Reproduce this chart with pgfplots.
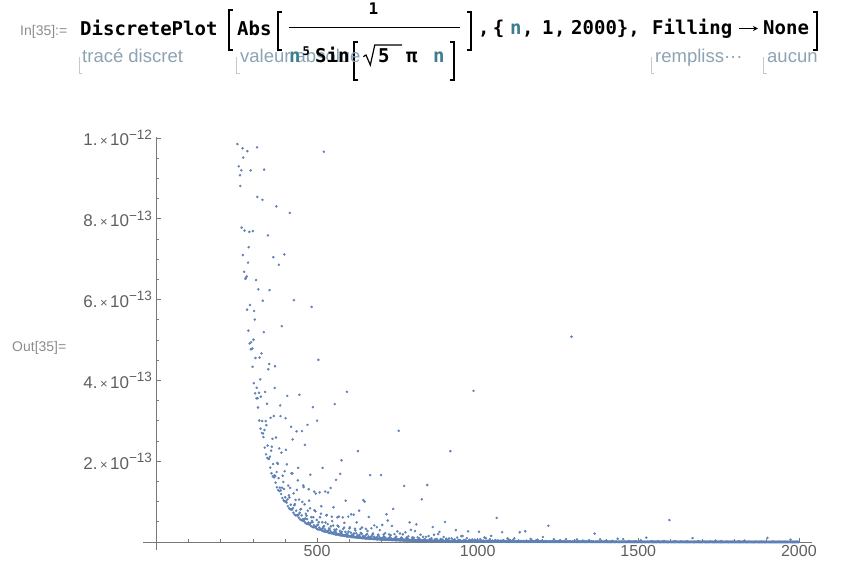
\documentclass[border=0pt]{standalone}
\usepackage{fontspec}
\setmainfont{Liberation Sans}
\newfontfamily\codefont{DejaVu Sans Mono}
\usepackage{pgfplots}
\pgfplotsset{compat=1.18}
\usetikzlibrary{arrows.meta}
\definecolor{ptblue}{RGB}{94,129,181}
\definecolor{nteal}{RGB}{60,125,145}
\definecolor{annot}{RGB}{140,163,178}
\definecolor{brk}{RGB}{200,200,200}
\definecolor{iogray}{RGB}{140,140,140}
\definecolor{axgray}{RGB}{120,120,120}
\definecolor{labgray}{RGB}{95,95,95}
\newcommand{\cf}[1]{{\fontsize{19bp}{19bp}\codefont\bfseries #1}}
\newcommand{\an}[1]{{\fontsize{18.5bp}{18.5bp}\selectfont\color{annot}#1}}
\newcommand{\sci}[2]{#1.\hspace{2.5bp}{\fontsize{13bp}{13bp}\selectfont ×}\hspace{2.5bp}10\raisebox{6.5bp}{\fontsize{13.5bp}{13.5bp}\selectfont −#2}}
\begin{document}
\begin{tikzpicture}[x=1bp,y=1bp]
\useasboundingbox (0,0) rectangle (853,583);
% ---- input line ----
\node[anchor=base west,inner sep=0,text=iogray,font=\fontsize{14bp}{14bp}\selectfont] at (20,547) {In[35]:=};
\node[anchor=base west,inner sep=0] at (80,547) {\cf{DiscretePlot}};
\node[anchor=base west,inner sep=0] at (237,547) {\cf{Abs}};
\begin{scope}[line width=1.6bp]
\draw (233,573) -- (228.8,573) -- (228.8,533) -- (233,533);
\draw (282,571) -- (277.8,571) -- (277.8,533) -- (282,533);
\draw (467,571) -- (471.2,571) -- (471.2,533) -- (467,533);
\draw (813,571) -- (817.2,571) -- (817.2,533) -- (813,533);
\draw (358,541) -- (353.8,541) -- (353.8,503) -- (358,503);
\draw (450,541) -- (454.2,541) -- (454.2,503) -- (450,503);
\end{scope}
\draw[line width=1.4bp] (289,555.7) -- (460,555.7);
\node[anchor=base,inner sep=0] at (373.5,568) {{\fontsize{16bp}{16bp}\codefont\bfseries 1}};
% annotations (drawn first, code drawn over them)
\begin{scope}[draw=brk,line width=0.8bp]
\draw (79,526.3) -- (79,509.7) -- (82,509.7);
\draw (236.5,526.3) -- (236.5,509.7) -- (239.5,509.7);
\draw (651,526.3) -- (651,509.7) -- (654,509.7);
\draw (763.5,526.3) -- (763.5,509.7) -- (766.5,509.7);
\end{scope}
\node[anchor=base west,inner sep=0] at (82,520) {\an{tracé discret}};
\node[anchor=base west,inner sep=0] at (240,520) {\an{valeur absolue}};
\node[anchor=base west,inner sep=0] at (655,520) {\an{rempliss···}};
\node[anchor=base west,inner sep=0] at (767,520) {\an{aucun}};
\node[anchor=base west,inner sep=0] at (289,520) {\cf{\color{nteal}n}};
\node[anchor=base west,inner sep=0] at (302.5,527) {{\fontsize{12bp}{12bp}\codefont\bfseries 5}};
\node[anchor=base west,inner sep=0] at (315,520) {\cf{Sin}};
\draw[line width=1.2bp] (363.3,526.3) -- (366,528) -- (370.3,518) -- (374.8,538) -- (402,538);
\node[anchor=base west,inner sep=0] at (378,520) {\cf{5}};
\node[anchor=base west,inner sep=0] at (406,520) {\cf{π}};
\node[anchor=base west,inner sep=0] at (433,520) {\cf{\color{nteal}n}};
\node[anchor=base west,inner sep=0] at (478,548) {\cf{,\,\{}};
\node[anchor=base west,inner sep=0] at (510,548) {\cf{\color{nteal}n}};
\node[anchor=base west,inner sep=0] at (522,548) {\cf{,}};
\node[anchor=base west,inner sep=0] at (542,548) {\cf{1}};
\node[anchor=base west,inner sep=0] at (554,548) {\cf{,}};
\node[anchor=base west,inner sep=0] at (571,548) {\cf{2000\},}};
\node[anchor=base west,inner sep=0] at (652,548) {\cf{Filling}};
\draw[line width=1.1bp,-{Stealth[length=5bp,width=5bp]}] (739,554.5) -- (758,554.5);
\node[anchor=base west,inner sep=0] at (763,548) {\cf{None}};
\node[anchor=base west,inner sep=0,text=iogray,font=\fontsize{14bp}{14bp}\selectfont] at (12,231.3) {Out[35]=};
% ---- plot ----
\begin{axis}[
  scale only axis, width=668.7bp, height=413.3bp,
  at={(156.5bp,41bp)}, anchor=origin,
  xmin=-42, xmax=2040, ymin=-0.2, ymax=10.03,
  axis lines=middle,
  axis line style={draw=axgray,line width=0.7bp,-},
  xtick={500,1000,1500,2000},
  xticklabels={500,1000,1500,2000},
  minor xtick={100,200,300,400,600,700,800,900,1100,1200,1300,1400,1600,1700,1800,1900},
  ytick={2,4,6,8,10},
  yticklabels={\sci{2}{13},\sci{4}{13},\sci{6}{13},\sci{8}{13},\sci{1}{12}},
  minor ytick={0.5,1,1.5,2.5,3,3.5,4.5,5,5.5,6.5,7,7.5,8.5,9,9.5},
  tick align=inside,
  major tick length=4bp, minor tick length=2.5bp,
  every tick/.style={draw=axgray,line width=0.6bp},
  xticklabel style={font=\fontsize{16bp}{16bp}\selectfont,text=labgray},
  yticklabel style={font=\fontsize{17bp}{17bp}\selectfont,text=labgray,xshift=-1bp},
]
\addplot[only marks, color=ptblue, mark=*, mark size=1.05bp, mark options={draw=none,fill=ptblue}] coordinates {
(289,7.676)(306,5.505)(323,4.024)(340,2.992)(357,2.261)(374,1.733)(391,1.344)(408,1.057)(425,0.839)(442,0.674)(459,0.547)(476,0.447)(493,0.369)(510,0.306)(527,0.257)(544,0.217)(561,0.184)(578,0.157)(595,0.135)(612,0.117)(629,0.102)(646,0.0889)(663,0.0781)(680,0.0689)(697,0.0613)(714,0.0546)(731,0.0489)(748,0.0437)(765,0.0398)(782,0.0361)(799,0.0329)(816,0.0302)(833,0.0278)(850,0.0257)(867,0.0238)(884,0.0221)(901,0.0207)(918,0.0194)(935,0.0183)(952,0.0174)(969,0.0165)(986,0.0158)(1003,0.0152)(1020,0.0148)(1037,0.0143)(1054,0.0141)(1071,0.0139)(1088,0.0138)(1105,0.0138)(1122,0.014)(1139,0.0144)(1156,0.0149)(1173,0.0158)(1190,0.0171)(1207,0.0191)(1224,0.0222)(1241,0.0275)(1258,0.0385)(1275,0.072)(1292,5.08)(1309,0.0635)(1326,0.0298)(1343,0.0186)(1360,0.0131)(1377,0.0099)(1394,0.0078)(1411,0.0063)(1428,0.0052)(1445,0.0044)(1462,0.0037)(1479,0.0032)(1496,0.0028)(1513,0.0025)(1530,0.0022)(1547,0.0019)(1564,0.0017)(1581,0.0016)(1598,0.0014)(1615,0.0013)(1632,0.0012)(1649,0.0011)(1666,0.001)(1683,0.0009)(1700,0.0008)(1717,0.00078)(1734,0.00073)(1751,0.00068)(1768,0.00063)(1785,0.00059)(1802,0.00056)(1819,0.00052)(1836,0.0005)(1853,0.00047)(1870,0.00045)(1887,0.00043)(1904,0.00041)(1921,0.00039)(1938,0.00037)(1955,0.00036)(1972,0.00034)(1989,0.00033)
(256,9.297)(273,6.688)(290,4.914)(307,3.68)(324,2.804)(341,2.169)(358,1.702)(375,1.353)(392,1.088)(409,0.885)(426,0.728)(443,0.604)(460,0.507)(477,0.428)(494,0.3645)(511,0.313)(528,0.271)(545,0.236)(562,0.207)(579,0.183)(596,0.163)(613,0.146)(630,0.132)(647,0.1196)(664,0.1093)(681,0.1003)(698,0.0931)(715,0.0868)(732,0.0816)(749,0.0772)(766,0.0736)(783,0.0709)(800,0.069)(817,0.068)(834,0.0678)(851,0.0688)(868,0.0707)(885,0.0741)(902,0.0804)(919,0.0909)(936,0.11)(953,0.149)(970,0.263)(987,3.74)(1004,0.255)(1021,0.113)(1038,0.0687)(1055,0.0474)(1072,0.0349)(1089,0.0269)(1106,0.0214)(1123,0.0174)(1140,0.0144)(1157,0.0121)(1174,0.0103)(1191,0.0088)(1208,0.0076)(1225,0.0067)(1242,0.0059)(1259,0.0052)(1276,0.0046)(1293,0.0041)(1310,0.0037)(1327,0.0033)(1344,0.003)(1361,0.0027)(1378,0.0025)(1395,0.0023)(1412,0.0021)(1429,0.0019)(1446,0.0018)(1463,0.0016)(1480,0.0015)(1497,0.0014)(1514,0.0013)(1531,0.0012)(1548,0.0012)(1565,0.0011)(1582,0.001)(1599,0.00096)(1616,0.00091)(1633,0.00086)(1650,0.00082)(1667,0.00078)(1684,0.00074)(1701,0.0007)(1718,0.00067)(1735,0.00065)(1752,0.00062)(1769,0.0006)(1786,0.00058)(1803,0.00056)(1820,0.00054)(1837,0.00053)(1854,0.00052)(1871,0.00051)(1888,0.0005)(1905,0.0005)(1922,0.00049)(1939,0.00049)(1956,0.00049)(1973,0.00048)(1990,0.00048)
(274,7.708)(291,5.867)(308,4.554)(325,3.599)(342,2.892)(359,2.36)(376,1.955)(393,1.641)(410,1.396)(427,1.204)(444,1.051)(461,0.931)(478,0.834)(495,0.758)(512,0.7)(529,0.656)(546,0.626)(563,0.609)(580,0.609)(597,0.627)(614,0.676)(631,0.776)(648,0.998)(665,1.654)(699,1.656)(716,0.686)(733,0.398)(750,0.264)(767,0.188)(784,0.14)(801,0.108)(818,0.0855)(835,0.0688)(852,0.0563)(869,0.0466)(886,0.0388)(903,0.0328)(920,0.0278)(937,0.024)(954,0.0207)(971,0.018)(988,0.0158)(1005,0.0139)(1022,0.0123)(1039,0.0109)(1056,0.0097)(1073,0.0087)(1090,0.0078)(1107,0.007)(1124,0.0063)(1141,0.0058)(1158,0.0053)(1175,0.0048)(1192,0.0044)(1209,0.0041)(1226,0.0037)(1243,0.0035)(1260,0.0032)(1277,0.003)(1294,0.0028)(1311,0.0026)(1328,0.0024)(1345,0.0023)(1362,0.0021)(1379,0.002)(1396,0.0019)(1413,0.0018)(1430,0.0017)(1447,0.0016)(1464,0.0015)(1481,0.0015)(1498,0.0014)(1515,0.0014)(1532,0.0013)(1549,0.0013)(1566,0.0012)(1583,0.0012)(1600,0.0012)(1617,0.0012)(1634,0.0012)(1651,0.0012)(1668,0.0012)(1685,0.0012)(1702,0.0011)(1719,0.0011)(1736,0.0011)(1753,0.0012)(1770,0.0012)(1787,0.0012)(1804,0.0013)(1821,0.0014)(1838,0.0015)(1855,0.0016)(1872,0.0018)(1889,0.002)(1906,0.0024)(1923,0.003)(1940,0.0042)(1957,0.0074)(1974,0.058)(1991,0.0089)
(428,5.985)(445,3.643)(462,2.403)(479,1.665)(496,1.198)(513,0.886)(530,0.671)(547,0.518)(564,0.405)(581,0.322)(598,0.259)(615,0.21)(632,0.1726)(649,0.1428)(666,0.1192)(683,0.0999)(700,0.0848)(717,0.0721)(734,0.0619)(751,0.0533)(768,0.0462)(785,0.0402)(802,0.0351)(819,0.031)(836,0.0273)(853,0.0242)(870,0.0216)(887,0.0193)(904,0.0173)(921,0.0155)(938,0.014)(955,0.0127)(972,0.0116)(989,0.0106)(1006,0.0097)(1023,0.0089)(1040,0.0082)(1057,0.0076)(1074,0.007)(1091,0.0065)(1108,0.0061)(1125,0.0057)(1142,0.0053)(1159,0.005)(1176,0.0047)(1193,0.0044)(1210,0.0042)(1227,0.004)(1244,0.0039)(1261,0.0038)(1278,0.0036)(1295,0.0035)(1312,0.0034)(1329,0.0033)(1346,0.0032)(1363,0.0031)(1380,0.0031)(1397,0.003)(1414,0.003)(1431,0.003)(1448,0.003)(1465,0.0031)(1482,0.0032)(1499,0.0033)(1516,0.0034)(1533,0.0036)(1550,0.0039)(1567,0.0042)(1584,0.0047)(1601,0.0057)(1618,0.0072)(1635,0.01)(1652,0.0166)(1669,0.0968)(1686,0.022)(1703,0.0094)(1720,0.0057)(1737,0.004)(1754,0.003)(1771,0.0024)(1788,0.002)(1805,0.0016)(1822,0.0014)(1839,0.0012)(1856,0.0011)(1873,0.00094)(1890,0.00083)(1907,0.00075)(1924,0.00066)(1941,0.0006)(1958,0.00055)(1975,0.0005)(1992,0.00045)
(293,9.199)(310,6.484)(327,4.668)(344,3.423)(361,2.553)(378,1.934)(395,1.486)(412,1.155)(429,0.909)(446,0.723)(463,0.582)(480,0.472)(497,0.386)(514,0.319)(531,0.265)(548,0.222)(565,0.187)(582,0.159)(599,0.1357)(616,0.1166)(633,0.1008)(650,0.0875)(667,0.0765)(684,0.0669)(701,0.0592)(718,0.0523)(735,0.0465)(752,0.0416)(769,0.0373)(786,0.0337)(803,0.0305)(820,0.0278)(837,0.0253)(854,0.0232)(871,0.0214)(888,0.0197)(905,0.0182)(922,0.017)(939,0.0158)(956,0.0148)(973,0.014)(990,0.0131)(1007,0.0126)(1024,0.012)(1041,0.0114)(1058,0.011)(1075,0.0106)(1092,0.0103)(1109,0.0101)(1126,0.0099)(1143,0.0099)(1160,0.0098)(1177,0.0099)(1194,0.0101)(1211,0.0104)(1228,0.0108)(1245,0.0114)(1262,0.0123)(1279,0.0136)(1296,0.0157)(1313,0.0193)(1330,0.0261)(1347,0.0442)(1364,0.206)(1381,0.0645)(1398,0.0259)(1415,0.0155)(1432,0.0107)(1449,0.008)(1466,0.0062)(1483,0.005)(1500,0.0042)(1517,0.0035)(1534,0.003)(1551,0.0026)(1568,0.0023)(1585,0.002)(1602,0.0018)(1619,0.0016)(1636,0.0014)(1653,0.0013)(1670,0.0011)(1687,0.001)(1704,0.0009)(1721,0.00085)(1738,0.0008)(1755,0.00073)(1772,0.00068)(1789,0.00063)(1806,0.00059)(1823,0.00055)(1840,0.00051)(1857,0.00048)(1874,0.00045)(1891,0.00043)(1908,0.0004)(1925,0.00038)(1942,0.00036)(1959,0.00034)(1976,0.00033)(1993,0.00031)
(260,9.079)(277,6.512)(294,4.768)(311,3.557)(328,2.698)(345,2.08)(362,1.624)(379,1.285)(396,1.028)(413,0.832)(430,0.68)(447,0.5614)(464,0.4683)(481,0.393)(498,0.3328)(515,0.2838)(532,0.2439)(549,0.2113)(566,0.184)(583,0.1613)(600,0.1423)(617,0.1263)(634,0.1129)(651,0.1014)(668,0.0916)(685,0.0831)(702,0.0761)(719,0.0699)(736,0.0646)(753,0.0601)(770,0.0563)(787,0.0531)(804,0.0503)(821,0.0481)(838,0.0463)(855,0.045)(872,0.044)(889,0.0436)(906,0.0436)(923,0.0442)(940,0.0456)(957,0.0481)(974,0.0524)(991,0.0588)(1008,0.0705)(1025,0.093)(1042,0.151)(1059,0.595)(1076,0.241)(1093,0.0914)(1110,0.0534)(1127,0.0362)(1144,0.0264)(1161,0.0204)(1178,0.0162)(1195,0.0132)(1212,0.0109)(1229,0.0092)(1246,0.0078)(1263,0.0067)(1280,0.0058)(1297,0.0051)(1314,0.0045)(1331,0.004)(1348,0.0035)(1365,0.0032)(1382,0.0029)(1399,0.0026)(1416,0.0023)(1433,0.0021)(1450,0.0019)(1467,0.0018)(1484,0.0016)(1501,0.0015)(1518,0.0014)(1535,0.0013)(1552,0.0012)(1569,0.0011)(1586,0.001)(1603,0.00097)(1620,0.00092)(1637,0.00087)(1654,0.00082)(1671,0.00077)(1688,0.00073)(1705,0.00069)(1722,0.00065)(1739,0.00062)(1756,0.00059)(1773,0.00057)(1790,0.00055)(1807,0.00052)(1824,0.0005)(1841,0.00048)(1858,0.00047)(1875,0.00046)(1892,0.00045)(1909,0.00044)(1926,0.00043)(1943,0.00042)(1960,0.00042)(1977,0.00042)(1994,0.00041)
(261,8.812)(278,6.535)(295,4.947)(312,3.816)(329,2.994)(346,2.387)(363,1.93)(380,1.581)(397,1.313)(414,1.103)(431,0.937)(448,0.805)(465,0.7)(482,0.614)(499,0.545)(516,0.489)(533,0.443)(550,0.407)(567,0.377)(584,0.355)(601,0.338)(618,0.327)(635,0.3235)(652,0.327)(669,0.34)(686,0.366)(703,0.421)(720,0.531)(737,0.818)(754,2.752)(771,1.387)(788,0.486)(805,0.2715)(822,0.178)(839,0.1264)(856,0.0945)(873,0.073)(890,0.0576)(907,0.0465)(924,0.0382)(941,0.0317)(958,0.0266)(975,0.0227)(992,0.0194)(1009,0.0168)(1026,0.0146)(1043,0.0128)(1060,0.0112)(1077,0.0099)(1094,0.0088)(1111,0.0078)(1128,0.007)(1145,0.0063)(1162,0.0057)(1179,0.0052)(1196,0.0047)(1213,0.0043)(1230,0.0039)(1247,0.0036)(1264,0.0033)(1281,0.0031)(1298,0.0028)(1315,0.0026)(1332,0.0024)(1349,0.0023)(1366,0.0021)(1383,0.002)(1400,0.0019)(1417,0.0018)(1434,0.0017)(1451,0.0016)(1468,0.0015)(1485,0.0014)(1502,0.0014)(1519,0.0013)(1536,0.0012)(1553,0.0012)(1570,0.0011)(1587,0.0011)(1604,0.0011)(1621,0.001)(1638,0.001)(1655,0.001)(1672,0.00095)(1689,0.00093)(1706,0.00093)(1723,0.00092)(1740,0.00092)(1757,0.00091)(1774,0.00091)(1791,0.00091)(1808,0.00093)(1825,0.00095)(1842,0.00096)(1859,0.001)(1876,0.00105)(1893,0.0011)(1910,0.0012)(1927,0.0013)(1944,0.0014)(1961,0.0016)(1978,0.0019)(1995,0.0024)
(313,9.768)(330,8.469)(347,7.589)(364,7.05)(381,6.862)(398,7.117)(415,8.146)(483,5.818)(500,3.002)(517,1.834)(534,1.224)(551,0.861)(568,0.629)(585,0.473)(602,0.364)(619,0.285)(636,0.227)(653,0.183)(670,0.1487)(687,0.1225)(704,0.102)(721,0.0854)(738,0.0721)(755,0.0613)(772,0.0524)(789,0.0452)(806,0.0391)(823,0.034)(840,0.0297)(857,0.0262)(874,0.0232)(891,0.0204)(908,0.0182)(925,0.0162)(942,0.0145)(959,0.0131)(976,0.0118)(993,0.0107)(1010,0.0098)(1027,0.0089)(1044,0.0081)(1061,0.0075)(1078,0.0068)(1095,0.0063)(1112,0.0058)(1129,0.0054)(1146,0.0051)(1163,0.0047)(1180,0.0044)(1197,0.0042)(1214,0.0039)(1231,0.0037)(1248,0.0035)(1265,0.0033)(1282,0.0032)(1299,0.003)(1316,0.0029)(1333,0.0028)(1350,0.0027)(1367,0.0026)(1384,0.0026)(1401,0.0025)(1418,0.0024)(1435,0.0024)(1452,0.0024)(1469,0.0023)(1486,0.0023)(1503,0.0023)(1520,0.0024)(1537,0.0024)(1554,0.0025)(1571,0.0026)(1588,0.0026)(1605,0.0028)(1622,0.003)(1639,0.0033)(1656,0.0037)(1673,0.0043)(1690,0.0053)(1707,0.0072)(1724,0.0122)(1741,0.0353)(1758,0.0254)(1775,0.0088)(1792,0.0051)(1809,0.0035)(1826,0.0027)(1843,0.0021)(1860,0.0017)(1877,0.0014)(1894,0.0012)(1911,0.001)(1928,0.0009)(1945,0.00078)(1962,0.00068)(1979,0.00062)(1996,0.00056)
(314,8.54)(331,5.971)(348,4.275)(365,3.117)(382,2.317)(399,1.751)(416,1.341)(433,1.041)(450,0.818)(467,0.65)(484,0.521)(501,0.422)(518,0.345)(535,0.285)(552,0.2364)(569,0.1975)(586,0.1664)(603,0.141)(620,0.1203)(637,0.1032)(654,0.089)(671,0.077)(688,0.0671)(705,0.0589)(722,0.0518)(739,0.0459)(756,0.0407)(773,0.0363)(790,0.0325)(807,0.0292)(824,0.0264)(841,0.0238)(858,0.0218)(875,0.0199)(892,0.0182)(909,0.0167)(926,0.0154)(943,0.0142)(960,0.0132)(977,0.0123)(994,0.0115)(1011,0.0109)(1028,0.0103)(1045,0.0097)(1062,0.0092)(1079,0.0088)(1096,0.0084)(1113,0.0081)(1130,0.0078)(1147,0.0076)(1164,0.0074)(1181,0.0073)(1198,0.0072)(1215,0.0072)(1232,0.0072)(1249,0.0072)(1266,0.0074)(1283,0.0076)(1300,0.0078)(1317,0.0083)(1334,0.009)(1351,0.0099)(1368,0.0114)(1385,0.0138)(1402,0.0181)(1419,0.0286)(1436,0.0818)(1453,0.0729)(1470,0.0233)(1487,0.0133)(1504,0.009)(1521,0.0066)(1538,0.0052)(1555,0.0042)(1572,0.0034)(1589,0.0029)(1606,0.0025)(1623,0.0021)(1640,0.0019)(1657,0.0016)(1674,0.0014)(1691,0.0013)(1708,0.0012)(1725,0.001)(1742,0.00094)(1759,0.00087)(1776,0.00079)(1793,0.00072)(1810,0.00067)(1827,0.00061)(1844,0.00057)(1861,0.00053)(1878,0.0005)(1895,0.00046)(1912,0.00044)(1929,0.00041)(1946,0.00038)(1963,0.00036)(1980,0.00034)(1997,0.00033)
(264,9.2)(281,6.571)(298,4.789)(315,3.557)(332,2.685)(349,2.058)(366,1.599)(383,1.26)(400,1.003)(417,0.807)(434,0.6563)(451,0.539)(468,0.4463)(485,0.3728)(502,0.3138)(519,0.266)(536,0.2275)(553,0.1954)(570,0.1691)(587,0.1473)(604,0.129)(621,0.1137)(638,0.1007)(655,0.0897)(672,0.0802)(689,0.0722)(706,0.0655)(723,0.0596)(740,0.0545)(757,0.0501)(774,0.0463)(791,0.043)(808,0.0401)(825,0.0378)(842,0.0356)(859,0.0339)(876,0.0325)(893,0.0311)(910,0.0301)(927,0.0295)(944,0.029)(961,0.0288)(978,0.029)(995,0.0295)(1012,0.0307)(1029,0.0324)(1046,0.0351)(1063,0.0394)(1080,0.0466)(1097,0.06)(1114,0.0915)(1131,0.2415)(1148,0.2646)(1165,0.0775)(1182,0.0429)(1199,0.0284)(1216,0.0206)(1233,0.0158)(1250,0.0124)(1267,0.0101)(1284,0.0084)(1301,0.007)(1318,0.006)(1335,0.0052)(1352,0.0045)(1369,0.0039)(1386,0.0035)(1403,0.0031)(1420,0.0028)(1437,0.0025)(1454,0.0022)(1471,0.002)(1488,0.0018)(1505,0.0017)(1522,0.0015)(1539,0.0014)(1556,0.0013)(1573,0.0012)(1590,0.0011)(1607,0.001)(1624,0.00096)(1641,0.0009)(1658,0.00084)(1675,0.00079)(1692,0.00074)(1709,0.00069)(1726,0.00065)(1743,0.00062)(1760,0.00059)(1777,0.00056)(1794,0.00054)(1811,0.00052)(1828,0.00049)(1845,0.00048)(1862,0.00046)(1879,0.00044)(1896,0.00043)(1913,0.00042)(1930,0.0004)(1947,0.00039)(1964,0.00038)(1981,0.00037)(1998,0.00036)
(265,7.78)(282,5.751)(299,4.335)(316,3.329)(333,2.597)(350,2.058)(367,1.652)(384,1.345)(401,1.108)(418,0.921)(435,0.775)(452,0.6595)(469,0.566)(486,0.4905)(503,0.429)(520,0.3786)(537,0.337)(554,0.3025)(571,0.2742)(588,0.2508)(605,0.2316)(622,0.216)(639,0.2036)(656,0.194)(673,0.187)(690,0.1834)(707,0.1832)(724,0.1866)(741,0.195)(758,0.2114)(775,0.241)(792,0.2995)(809,0.437)(826,1.056)(843,1.411)(860,0.368)(877,0.195)(894,0.1246)(911,0.0878)(928,0.0655)(945,0.0506)(962,0.0402)(979,0.0326)(996,0.0269)(1013,0.0225)(1030,0.019)(1047,0.0162)(1064,0.0139)(1081,0.0121)(1098,0.0105)(1115,0.0092)(1132,0.0082)(1149,0.0073)(1166,0.0065)(1183,0.0058)(1200,0.0052)(1217,0.0047)(1234,0.0043)(1251,0.0039)(1268,0.0035)(1285,0.0032)(1302,0.003)(1319,0.0027)(1336,0.0025)(1353,0.0023)(1370,0.0022)(1387,0.002)(1404,0.0019)(1421,0.0018)(1438,0.0016)(1455,0.0015)(1472,0.0015)(1489,0.0014)(1506,0.0013)(1523,0.0012)(1540,0.0012)(1557,0.0011)(1574,0.0011)(1591,0.001)(1608,0.00098)(1625,0.00094)(1642,0.00091)(1659,0.00088)(1676,0.00085)(1693,0.00083)(1710,0.0008)(1727,0.00079)(1744,0.00077)(1761,0.00076)(1778,0.00075)(1795,0.00074)(1812,0.00074)(1829,0.00074)(1846,0.00074)(1863,0.00075)(1880,0.00076)(1897,0.00078)(1914,0.0008)(1931,0.00083)(1948,0.00086)(1965,0.0009)(1982,0.00096)(1999,0.001)
(283,9.675)(300,7.694)(317,6.255)(334,5.194)(351,4.404)(368,3.814)(385,3.38)(402,3.064)(419,2.852)(436,2.74)(453,2.744)(470,2.899)(487,3.337)(504,4.509)(521,9.66)(555,3.412)(572,1.687)(589,1.023)(606,0.685)(623,0.486)(640,0.359)(657,0.273)(674,0.212)(691,0.1685)(708,0.1355)(725,0.1104)(742,0.0909)(759,0.0757)(776,0.0635)(793,0.0538)(810,0.0459)(827,0.0394)(844,0.034)(861,0.0296)(878,0.0258)(895,0.0225)(912,0.0198)(929,0.0176)(946,0.0156)(963,0.0139)(980,0.0125)(997,0.0112)(1014,0.0101)(1031,0.0092)(1048,0.0083)(1065,0.0076)(1082,0.0069)(1099,0.0063)(1116,0.0058)(1133,0.0054)(1150,0.005)(1167,0.0046)(1184,0.0043)(1201,0.004)(1218,0.0038)(1235,0.0035)(1252,0.0033)(1269,0.0031)(1286,0.003)(1303,0.0028)(1320,0.0027)(1337,0.0025)(1354,0.0024)(1371,0.0023)(1388,0.0022)(1405,0.0021)(1422,0.0021)(1439,0.002)(1456,0.002)(1473,0.0019)(1490,0.0019)(1507,0.0019)(1524,0.0018)(1541,0.0018)(1558,0.0018)(1575,0.0019)(1592,0.0019)(1609,0.0019)(1626,0.0019)(1643,0.002)(1660,0.0021)(1677,0.0022)(1694,0.0024)(1711,0.0025)(1728,0.0028)(1745,0.0033)(1762,0.004)(1779,0.0053)(1796,0.0083)(1813,0.0185)(1830,0.0355)(1847,0.0085)(1864,0.0047)(1881,0.0031)(1898,0.0023)(1915,0.0018)(1932,0.0015)(1949,0.0012)(1966,0.001)(1983,0.00088)(2000,0.00075)
(335,9.218)(352,6.235)(369,4.35)(386,3.116)(403,2.281)(420,1.7)(437,1.289)(454,0.993)(471,0.775)(488,0.6116)(505,0.4883)(522,0.3937)(539,0.3207)(556,0.263)(573,0.2177)(590,0.1816)(607,0.1524)(624,0.1289)(641,0.1096)(658,0.0938)(675,0.0804)(692,0.0697)(709,0.0606)(726,0.053)(743,0.0464)(760,0.041)(777,0.0362)(794,0.0323)(811,0.0288)(828,0.0259)(845,0.0233)(862,0.021)(879,0.0191)(896,0.0173)(913,0.0158)(930,0.0145)(947,0.0134)(964,0.0123)(981,0.0114)(998,0.0106)(1015,0.0098)(1032,0.0092)(1049,0.0086)(1066,0.0081)(1083,0.0077)(1100,0.0073)(1117,0.0069)(1134,0.0066)(1151,0.0063)(1168,0.0061)(1185,0.0059)(1202,0.0057)(1219,0.0056)(1236,0.0055)(1253,0.0054)(1270,0.0053)(1287,0.0053)(1304,0.0053)(1321,0.0054)(1338,0.0055)(1355,0.0056)(1372,0.0059)(1389,0.0062)(1406,0.0067)(1423,0.0074)(1440,0.0084)(1457,0.0101)(1474,0.013)(1491,0.0194)(1508,0.0433)(1525,0.106)(1542,0.0218)(1559,0.0116)(1576,0.0077)(1593,0.0056)(1610,0.0043)(1627,0.0034)(1644,0.0028)(1661,0.0024)(1678,0.002)(1695,0.0017)(1712,0.0015)(1729,0.0013)(1746,0.0012)(1763,0.0011)(1780,0.00095)(1797,0.00087)(1814,0.00078)(1831,0.00071)(1848,0.00066)(1865,0.0006)(1882,0.00056)(1899,0.00052)(1916,0.00049)(1933,0.00045)(1950,0.00042)(1967,0.00039)(1984,0.00037)
(268,9.744)(285,6.915)(302,5.007)(319,3.695)(336,2.772)(353,2.111)(370,1.631)(387,1.277)(404,1.011)(421,0.8085)(438,0.6533)(455,0.5337)(472,0.4393)(489,0.3647)(506,0.3052)(523,0.2573)(540,0.2186)(557,0.1866)(574,0.1605)(591,0.1389)(608,0.1209)(625,0.1058)(642,0.0931)(659,0.0824)(676,0.0731)(693,0.0655)(710,0.0588)(727,0.053)(744,0.048)(761,0.0437)(778,0.04)(795,0.0369)(812,0.034)(829,0.0316)(846,0.0294)(863,0.0276)(880,0.0259)(897,0.0245)(914,0.0234)(931,0.0224)(948,0.0215)(965,0.0209)(982,0.0203)(999,0.0199)(1016,0.0197)(1033,0.0197)(1050,0.0199)(1067,0.0204)(1084,0.0211)(1101,0.0224)(1118,0.0241)(1135,0.027)(1152,0.0317)(1169,0.04)(1186,0.058)(1203,0.1236)(1220,0.4026)(1237,0.0687)(1254,0.0353)(1271,0.0228)(1288,0.0164)(1305,0.0124)(1322,0.0098)(1339,0.0079)(1356,0.0066)(1373,0.0055)(1390,0.0047)(1407,0.0041)(1424,0.0035)(1441,0.0031)(1458,0.0027)(1475,0.0024)(1492,0.0022)(1509,0.002)(1526,0.0018)(1543,0.0016)(1560,0.0015)(1577,0.0013)(1594,0.0012)(1611,0.0011)(1628,0.001)(1645,0.00096)(1662,0.00089)(1679,0.00083)(1696,0.00077)(1713,0.00073)(1730,0.00068)(1747,0.00064)(1764,0.0006)(1781,0.00057)(1798,0.00054)(1815,0.00051)(1832,0.00049)(1849,0.00046)(1866,0.00044)(1883,0.00042)(1900,0.00041)(1917,0.0004)(1934,0.00038)(1951,0.00037)(1968,0.00036)(1985,0.00035)
(252,9.85)(269,7.1)(286,5.23)(303,3.93)(320,3.006)(337,2.335)(354,1.841)(371,1.47)(388,1.189)(405,0.973)(422,0.804)(439,0.671)(456,0.567)(473,0.482)(490,0.414)(507,0.358)(524,0.313)(541,0.275)(558,0.244)(575,0.218)(592,0.196)(609,0.178)(626,0.1625)(643,0.1495)(660,0.139)(677,0.13)(694,0.123)(711,0.117)(728,0.113)(745,0.11)(762,0.109)(779,0.11)(796,0.1124)(813,0.118)(830,0.128)(847,0.146)(864,0.179)(881,0.25)(898,0.497)(915,2.25)(932,0.294)(949,0.145)(966,0.091)(983,0.0636)(1000,0.0472)(1017,0.0365)(1034,0.029)(1051,0.0236)(1068,0.0195)(1085,0.0163)(1102,0.0138)(1119,0.0118)(1136,0.0102)(1153,0.0089)(1170,0.0078)(1187,0.0068)(1204,0.0061)(1221,0.0054)(1238,0.0048)(1255,0.0043)(1272,0.0039)(1289,0.0036)(1306,0.0032)(1323,0.0029)(1340,0.0027)(1357,0.0025)(1374,0.0023)(1391,0.0021)(1408,0.0019)(1425,0.0018)(1442,0.0017)(1459,0.0016)(1476,0.0015)(1493,0.0014)(1510,0.0013)(1527,0.0012)(1544,0.0012)(1561,0.0011)(1578,0.001)(1595,0.00098)(1612,0.00094)(1629,0.0009)(1646,0.00085)(1663,0.00082)(1680,0.00079)(1697,0.00076)(1714,0.00073)(1731,0.00071)(1748,0.00069)(1765,0.00067)(1782,0.00065)(1799,0.00064)(1816,0.00063)(1833,0.00062)(1850,0.00061)(1867,0.0006)(1884,0.0006)(1901,0.00061)(1918,0.00061)(1935,0.00062)(1952,0.00063)(1969,0.00065)(1986,0.00068)
(270,9.515)(287,7.297)(304,5.717)(321,4.565)(338,3.714)(355,3.073)(372,2.585)(389,2.21)(406,1.922)(423,1.697)(440,1.525)(457,1.398)(474,1.305)(491,1.247)(508,1.227)(525,1.249)(542,1.337)(559,1.538)(576,2.023)(593,3.717)(627,2.248)(644,1.036)(661,0.6186)(678,0.4117)(695,0.294)(712,0.2188)(729,0.1676)(746,0.1314)(763,0.105)(780,0.0853)(797,0.0702)(814,0.0581)(831,0.0489)(848,0.0414)(865,0.0354)(882,0.0303)(899,0.0262)(916,0.0227)(933,0.0199)(950,0.0175)(967,0.0154)(984,0.0137)(1001,0.0122)(1018,0.0109)(1035,0.0098)(1052,0.0088)(1069,0.008)(1086,0.0072)(1103,0.0066)(1120,0.006)(1137,0.0055)(1154,0.005)(1171,0.0046)(1188,0.0043)(1205,0.004)(1222,0.0037)(1239,0.0034)(1256,0.0032)(1273,0.003)(1290,0.0028)(1307,0.0026)(1324,0.0025)(1341,0.0024)(1358,0.0022)(1375,0.0021)(1392,0.002)(1409,0.0019)(1426,0.0019)(1443,0.0018)(1460,0.0017)(1477,0.0017)(1494,0.0016)(1511,0.0016)(1528,0.0015)(1545,0.0015)(1562,0.0015)(1579,0.0014)(1596,0.0014)(1613,0.0014)(1630,0.0014)(1647,0.0014)(1664,0.0015)(1681,0.0015)(1698,0.0015)(1715,0.0016)(1732,0.0016)(1749,0.0017)(1766,0.0018)(1783,0.002)(1800,0.0022)(1817,0.0025)(1834,0.003)(1851,0.0039)(1868,0.0058)(1885,0.0113)(1902,0.1003)(1919,0.0086)(1936,0.0043)(1953,0.0028)(1970,0.002)(1987,0.0015)
(373,8.307)(390,5.342)(407,3.617)(424,2.538)(441,1.834)(458,1.359)(475,1.0245)(492,0.786)(509,0.6125)(526,0.4834)(543,0.3864)(560,0.3116)(577,0.254)(594,0.2087)(611,0.173)(628,0.1445)(645,0.1215)(662,0.1029)(679,0.0874)(696,0.0751)(713,0.0648)(730,0.056)(747,0.0488)(764,0.0426)(781,0.0375)(798,0.0331)(815,0.0294)(832,0.0262)(849,0.0234)(866,0.021)(883,0.0188)(900,0.017)(917,0.0155)(934,0.0141)(951,0.0128)(968,0.0117)(985,0.0108)(1002,0.01)(1019,0.0092)(1036,0.0086)(1053,0.008)(1070,0.0074)(1087,0.007)(1104,0.0066)(1121,0.0062)(1138,0.0058)(1155,0.0055)(1172,0.0053)(1189,0.005)(1206,0.0048)(1223,0.0046)(1240,0.0045)(1257,0.0043)(1274,0.0042)(1291,0.0042)(1308,0.0041)(1325,0.004)(1342,0.004)(1359,0.004)(1376,0.004)(1393,0.0041)(1410,0.0041)(1427,0.0043)(1444,0.0044)(1461,0.0047)(1478,0.0051)(1495,0.0056)(1512,0.0063)(1529,0.0075)(1546,0.0095)(1563,0.0138)(1580,0.0258)(1597,0.543)(1614,0.0211)(1631,0.0103)(1648,0.0066)(1665,0.0047)(1682,0.0036)(1699,0.0028)(1716,0.0023)(1733,0.002)(1750,0.0017)(1767,0.0014)(1784,0.0013)(1801,0.0011)(1818,0.001)(1835,0.00088)(1852,0.0008)(1869,0.00072)(1886,0.00065)(1903,0.0006)(1920,0.00055)(1937,0.0005)(1954,0.00047)(1971,0.00043)(1988,0.0004)
};
\end{axis}
\end{tikzpicture}
\end{document}
